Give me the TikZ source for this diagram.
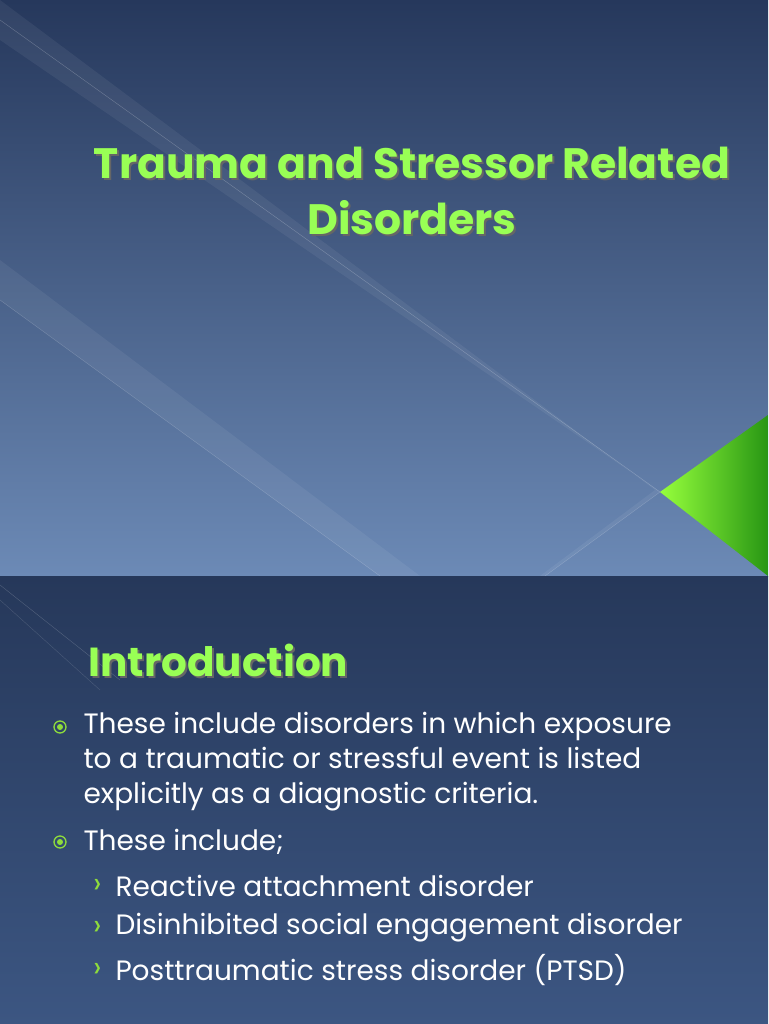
\documentclass[tikz,border=0pt]{standalone}
\usepackage{fontspec}
\setmainfont{Poppins}
\definecolor{tgreen}{HTML}{99FF55}
\definecolor{bgreen}{HTML}{8EDC3C}
\begin{document}
\begin{tikzpicture}[x=1pt,y=-1pt,
  title/.style={text=tgreen,font=\fontsize{42.5}{56}\bfseries\selectfont,align=center},
  body/.style={text=white,anchor=west,font=\fontsize{28}{35}\selectfont,align=left},
  shadow/.style={text=black!70,anchor=west}]
\useasboundingbox (0,0) rectangle (768,1024);
% slide 1
\shade[top color={rgb,255:red,38;green,56;blue,92},bottom color={rgb,255:red,108;green,138;blue,182}] (0,0) rectangle (768,576);
\fill[white,opacity=0.06] (0,0) -- (0,40) -- (660,492) -- (545,576) -- (380,576) -- (0,300) -- (0,260) -- (420,576) -- (540,576) -- (655,490) -- cycle;
\draw[white,opacity=0.25] (0,20) -- (660,492) coordinate (v);
\draw[white,opacity=0.2] (0,300) -- (380,576);
\draw[white,opacity=0.2] (v) -- (545,576);
\shade[left color={rgb,255:red,150;green,255;blue,60},right color={rgb,255:red,40;green,150;blue,20}] (v) -- (768,415) -- (768,576) -- cycle;
\node[title,text=black!60] at (414,193) {Trauma and Stressor Related\\Disorders};
\node[title] (t) at (412,191) {Trauma and Stressor Related\\Disorders};
% slide 2
\shade[top color={rgb,255:red,38;green,56;blue,90},bottom color={rgb,255:red,60;green,86;blue,130}] (0,576) rectangle (768,1024);
\draw[white,opacity=0.2] (0,585) -- (120,680);
\draw[white,opacity=0.15] (0,600) -- (100,690);
\node[anchor=west,text=black!60,font=\fontsize{40.5}{45}\bfseries\selectfont] at (87,662) {Introduction};
\node[anchor=west,text=tgreen,font=\fontsize{40.5}{45}\bfseries\selectfont] (h) at (85,660) {Introduction};
\foreach \y/\n in {727/b1,842/b2}{
  \draw[bgreen,line width=1.3] (60,\y) circle (6);
  \fill[bgreen] (60,\y) circle (3);
}
\node[body] (p1) at (80,762) {These include disorders in which exposure\\to a traumatic or stressful event is listed\\explicitly as a diagnostic criteria.};
\node[body] (p2) at (80,842) {These include;};
\foreach \y/\t in {886/Reactive attachment disorder,928/Disinhibited social engagement disorder,970/Posttraumatic stress disorder (PTSD)}{
  \node[anchor=west,text=bgreen,font=\fontsize{30}{30}\selectfont] at (90,\y) {›};
  \node[body] at (112,\y) {\t};
}
\end{tikzpicture}
\end{document}
